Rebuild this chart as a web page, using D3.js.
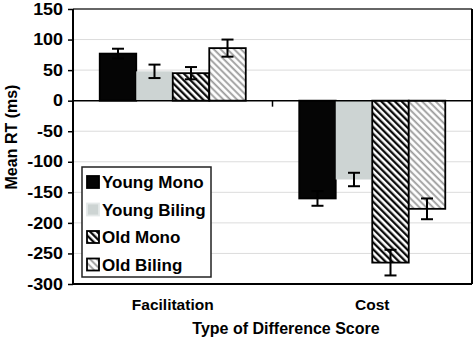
<!DOCTYPE html>
<html>
<head>
<meta charset="utf-8">
<script src="https://cdn.jsdelivr.net/npm/d3@7"></script>
<style>
	body { margin: 0; background: #fff; }
	svg { display: block; font-family: 'Liberation Sans', Arial, sans-serif; font-weight: bold; }
</style>
</head>
<body>
<svg id="chart"></svg>
<script>
const categories = ['Facilitation', 'Cost']
const groups = ['Young Mono', 'Young Biling', 'Old Mono', 'Old Biling']
// mean RT per group, one array per category
const facilitation = [77, 48, 45, 86]
const cost = [-160, -129, -265, -177]
// error bar half-lengths
const facilitationErr = [8, 11, 10, 14]
const costErr = [12, 11, 21, 17]
const yTicks = [150, 100, 50, 0, -50, -100, -150, -200, -250, -300]

const width = 474
const height = 338
const plot = {left: 73, right: 472, top: 9, bottom: 284}

const svg = d3.select('#chart')
	.attr('width', width)
	.attr('height', height)

// hatch patterns
const defs = svg.append('defs')
const hatch = (id, color, w) => {
	const p = defs.append('pattern')
		.attr('id', id)
		.attr('patternUnits', 'userSpaceOnUse')
		.attr('width', 4.8)
		.attr('height', 4.8)
		.attr('patternTransform', 'rotate(-45)')
	p.append('rect').attr('width', 4.8).attr('height', 4.8).attr('fill', '#fff')
	p.append('line')
		.attr('x1', 1.2).attr('x2', 1.2)
		.attr('y1', 0).attr('y2', 4.8)
		.attr('stroke', color)
		.attr('stroke-width', w)
}
hatch('hatchBlack', '#000', 2.2)
hatch('hatchGray', '#9a9a9a', 1.8)

const fills = ['#050505', '#cdd4d3', 'url(#hatchBlack)', 'url(#hatchGray)']
const strokes = ['#000', 'none', '#000', '#000']

const y = d3.scaleLinear()
	.domain([-300, 150])
	.range([plot.bottom, plot.top])

const x0 = d3.scaleBand()
	.domain(categories)
	.range([plot.left, plot.right])
	.paddingInner(0.268)
	.paddingOuter(0.134)

const x1 = d3.scaleBand()
	.domain(groups)
	.range([0, x0.bandwidth()])

// gridlines
svg.append('g')
	.selectAll('line')
	.data(yTicks.filter(d => d !== 0 && d !== -300 && d !== 150))
	.join('line')
	.attr('x1', plot.left).attr('x2', plot.right)
	.attr('y1', d => y(d)).attr('y2', d => y(d))
	.attr('stroke', '#dcdcdc')
	.attr('stroke-width', 1)

// frame top / right / bottom
svg.append('line')
	.attr('x1', plot.left).attr('x2', plot.right)
	.attr('y1', plot.top).attr('y2', plot.top)
	.attr('stroke', '#333').attr('stroke-width', 1.5)
svg.append('line')
	.attr('x1', plot.right).attr('x2', plot.right)
	.attr('y1', plot.top).attr('y2', plot.bottom)
	.attr('stroke', '#000').attr('stroke-width', 2)
svg.append('line')
	.attr('x1', plot.left).attr('x2', plot.right)
	.attr('y1', plot.bottom).attr('y2', plot.bottom)
	.attr('stroke', '#000').attr('stroke-width', 2)

const rows = [
	{cat: 'Facilitation', values: facilitation, errs: facilitationErr},
	{cat: 'Cost', values: cost, errs: costErr}
]

const data = rows.flatMap(r => r.values.map((v, i) => ({
	cat: r.cat, group: groups[i], i, value: v, err: r.errs[i]
})))

// bars
svg.append('g')
	.selectAll('rect')
	.data(data)
	.join('rect')
	.attr('x', d => x0(d.cat) + x1(d.group))
	.attr('width', x1.bandwidth())
	.attr('y', d => y(Math.max(0, d.value)))
	.attr('height', d => Math.abs(y(d.value) - y(0)))
	.attr('fill', d => fills[d.i])
	.attr('stroke', d => strokes[d.i])
	.attr('stroke-width', 1.8)

// zero line and x axis tick
svg.append('line')
	.attr('x1', plot.left).attr('x2', plot.right)
	.attr('y1', y(0)).attr('y2', y(0))
	.attr('stroke', '#000').attr('stroke-width', 1.5)
const midX = (x0('Facilitation') + x0.bandwidth() + x0('Cost')) / 2
svg.append('line')
	.attr('x1', midX).attr('x2', midX)
	.attr('y1', y(0)).attr('y2', y(0) + 6)
	.attr('stroke', '#000').attr('stroke-width', 1.5)

// error bars
const err = svg.append('g')
	.attr('stroke', '#000')
	.attr('stroke-width', 2)
	.selectAll('g')
	.data(data)
	.join('g')
	.attr('transform', d => `translate(${x0(d.cat) + x1(d.group) + x1.bandwidth() / 2},0)`)
err.append('line')
	.attr('y1', d => y(d.value - d.err)).attr('y2', d => y(d.value + d.err))
err.append('line')
	.attr('x1', -6).attr('x2', 6)
	.attr('y1', d => y(d.value + d.err)).attr('y2', d => y(d.value + d.err))
err.append('line')
	.attr('x1', -6).attr('x2', 6)
	.attr('y1', d => y(d.value - d.err)).attr('y2', d => y(d.value - d.err))

// y axis, labels a bit wide like the original
const yAxis = svg.append('g')
	.attr('transform', `translate(${plot.left},0)`)
	.attr('font-family', null)
	.call(d3.axisLeft(y).tickValues(yTicks).tickSize(5).tickPadding(5).tickFormat(d => String(d)))
yAxis.select('.domain').attr('stroke-width', 2).attr('d', `M0,${plot.top}V${plot.bottom}`)
yAxis.selectAll('.tick line').attr('stroke-width', 1.5)
yAxis.selectAll('text')
	.attr('font-size', 16)
	.attr('fill', '#000')
	.attr('x', 0)
	.attr('transform', 'translate(-10,0) scale(1.12,1)')

// category labels
svg.append('g')
	.selectAll('text')
	.data(categories)
	.join('text')
	.attr('x', d => x0(d) + x0.bandwidth() / 2)
	.attr('y', 310)
	.attr('text-anchor', 'middle')
	.attr('font-size', 15.5)
	.text(d => d)

// axis titles
svg.append('text')
	.attr('x', 286)
	.attr('y', 334)
	.attr('text-anchor', 'middle')
	.attr('font-size', 16)
	.text('Type of Difference Score')
svg.append('text')
	.attr('transform', 'translate(17,137) rotate(-90)')
	.attr('text-anchor', 'middle')
	.attr('font-size', 16)
	.text('Mean RT (ms)')

// legend
const legend = svg.append('g').attr('transform', 'translate(82,167)')
legend.append('rect')
	.attr('width', 129).attr('height', 110)
	.attr('fill', '#fff')
	.attr('stroke', '#222')
	.attr('stroke-width', 1.5)
const item = legend.selectAll('g')
	.data(groups)
	.join('g')
	.attr('transform', (d, i) => `translate(5,${15 + i * 27.5})`)
item.append('rect')
	.attr('x', 0).attr('y', -6)
	.attr('width', 12).attr('height', 12)
	.attr('fill', (d, i) => fills[i])
	.attr('stroke', (d, i) => i === 1 ? '#e4e8e8' : '#000')
	.attr('stroke-width', 1.8)
item.append('text')
	.attr('x', 15)
	.attr('y', 6)
	.attr('font-size', 17)
	.text(d => d)
</script>
</body>
</html>
